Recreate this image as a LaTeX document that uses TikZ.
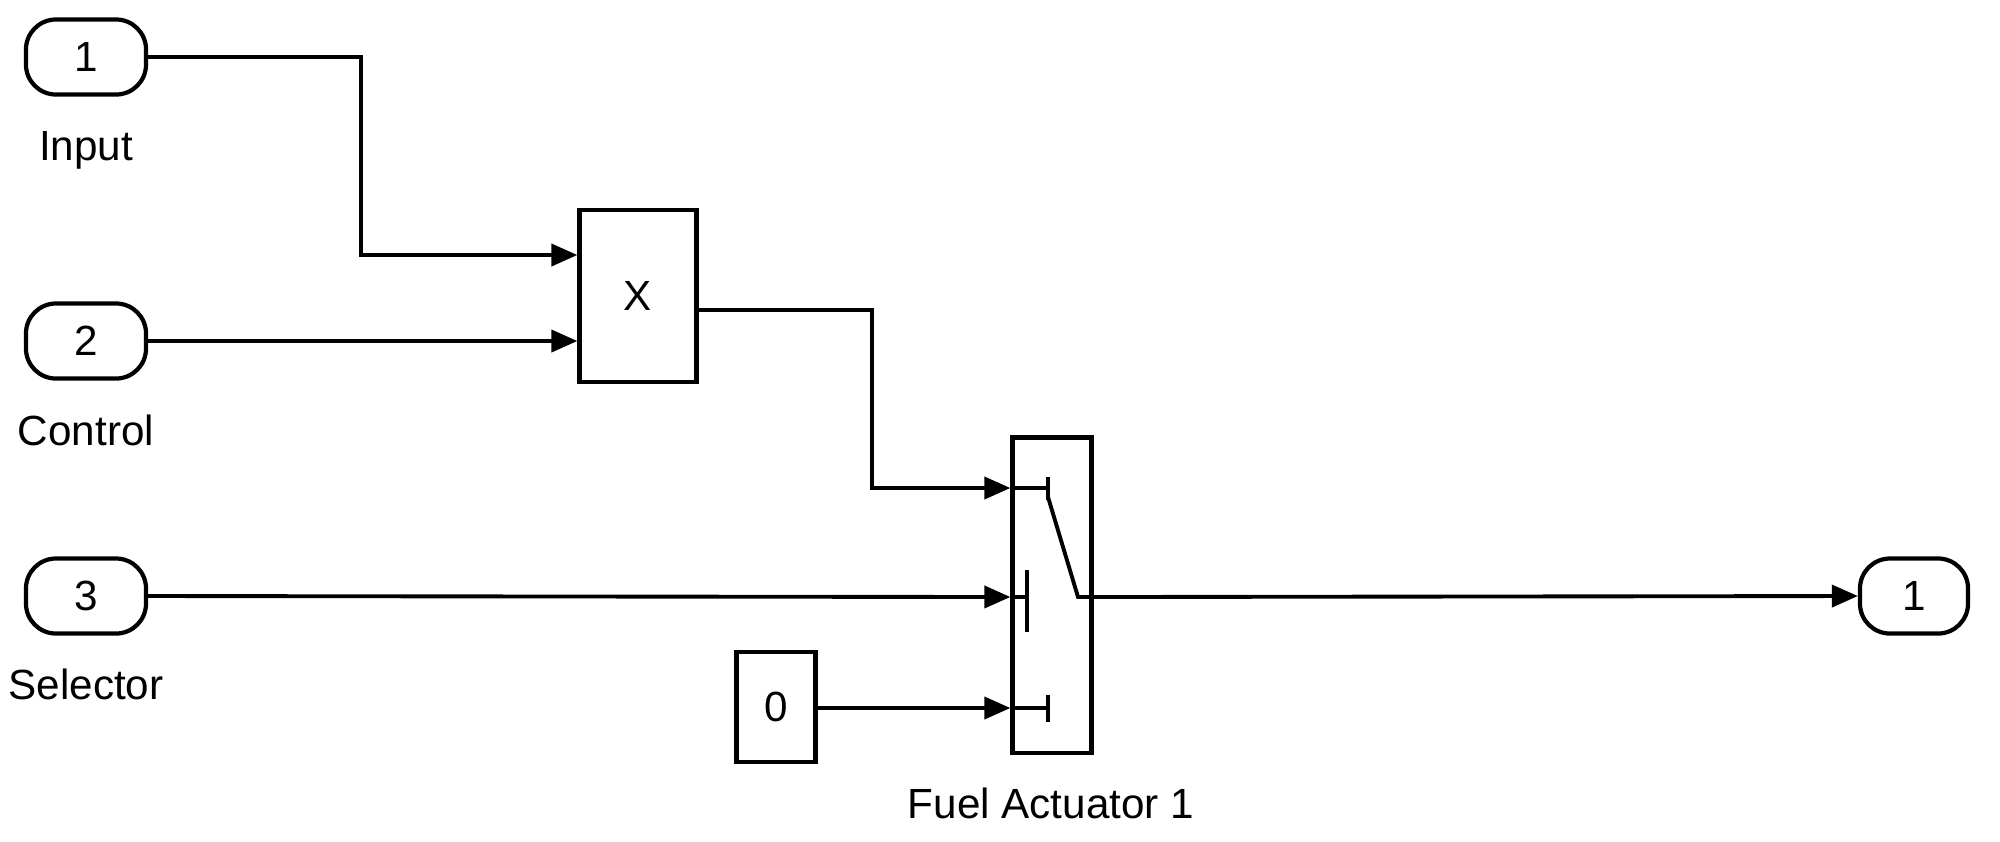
\documentclass[tikz,border=0pt]{standalone}
\usepackage{fontspec}
\setmainfont{Liberation Sans}
\usetikzlibrary{arrows.meta}
\begin{document}
\begin{tikzpicture}[x=0.01cm,y=-0.01cm,
  port/.style={draw,line width=1.2pt,rounded corners=0.3cm,minimum width=1.2cm,minimum height=0.75cm,inner sep=0pt,font=\fontsize{12}{14}\selectfont},
  blk/.style={draw,line width=1.2pt,inner sep=0pt,font=\fontsize{12}{14}\selectfont},
  lbl/.style={font=\fontsize{12}{14}\selectfont,inner sep=0pt},
  wire/.style={line width=1.1pt,-{Triangle[length=0.26cm,width=0.22cm]}},
  sw/.style={line width=1.1pt}]
\useasboundingbox (0,0) rectangle (2000,841);
\node[port] (in1) at (86,57) {1};
\node[lbl] (l1) at (86,150) {Input};
\node[port] (in2) at (86,341) {2};
\node[lbl] (l2) at (86,430) {Control};
\node[port] (in3) at (86,596) {3};
\node[lbl] (l3) at (86,684) {Selector};
\node[blk,minimum width=1.17cm,minimum height=1.72cm] (prod) at (638,296) {X};
\node[blk,minimum width=0.79cm,minimum height=1.1cm] (c0) at (776,707) {0};
\node[blk,minimum width=0.79cm,minimum height=3.15cm] (swt) at (1052,595) {};
\node[lbl] (fa) at (1051,803) {Fuel Actuator 1};
\node[port,minimum width=1.08cm] (out) at (1914,596) {1};
\coordinate (p1) at (prod.west|-0,255);
\coordinate (p2) at (prod.west|-0,341);
\coordinate (s1) at (swt.west|-0,488);
\coordinate (s2) at (swt.west|-0,597);
\coordinate (s3) at (swt.west|-0,708);
\draw[wire] (in1.east) -| (361,156) |- (p1);
\draw[wire] (in2.east) -- (p2);
\draw[wire] (prod.east|-0,310) -| (872,400) |- (s1);
\draw[wire] (in3.east) -- (s2);
\draw[wire] (c0.east|-0,708) -- (s3);
\draw[wire] (swt.east|-0,597) -- (out.west);
% switch internals
\draw[sw] (s1) -- (1048,488);
\draw[sw] (1048,477) -- (1048,500);
\draw[sw] (1048,497) -- (1078,597) -- (swt.east|-0,597);
\draw[sw] (s2) -- (1027,597);
\draw[sw] (1027,570) -- (1027,632);
\draw[sw] (s3) -- (1048,708);
\draw[sw] (1048,695) -- (1048,722);
\end{tikzpicture}
\end{document}
